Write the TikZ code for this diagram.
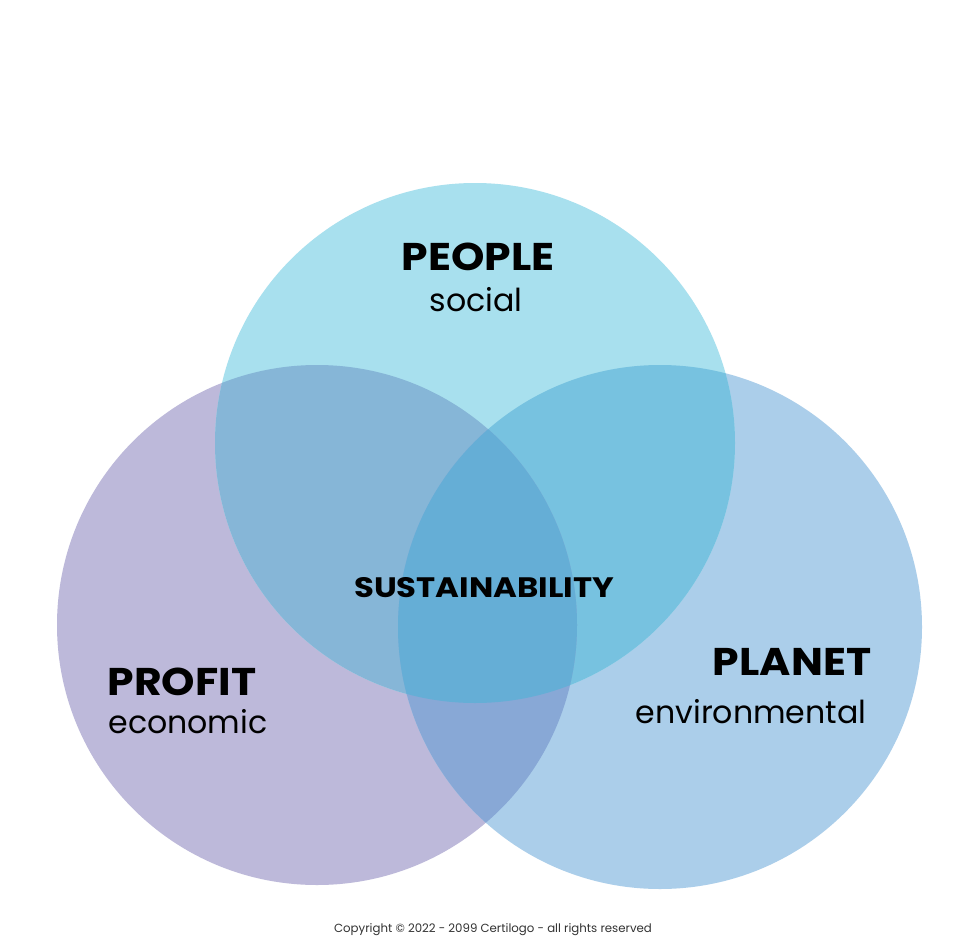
\documentclass[tikz,border=0pt]{standalone}
\usepackage{fontspec}
\setmainfont{Poppins}
\definecolor{profitfill}{HTML}{BDB9DA}
\definecolor{planetfill}{HTML}{ABCEEA}
\definecolor{peoplefill}{HTML}{A8E0EE}
\definecolor{peopleprofit}{HTML}{86B6D7}
\definecolor{peopleplanet}{HTML}{77C2E0}
\definecolor{profitplanet}{HTML}{88A8D6}
\definecolor{allthree}{HTML}{65AED6}
\begin{document}
\begin{tikzpicture}[x=0.02cm, y=-0.02cm,
  title/.style = {font=\fontsize{22}{26}\selectfont\bfseries\addfontfeatures{FakeStretch=1.1}, inner sep=0pt},
  sub/.style = {font=\fontsize{18}{21}\selectfont, inner sep=0pt},
  core/.style = {font=\fontsize{16}{19}\selectfont\bfseries\addfontfeatures{FakeStretch=1.15}, inner sep=0pt}]
	\useasboundingbox[fill=white] (0,0) rectangle (974,950);
	% the three circles
	\fill[profitfill] (317,625) circle (260);
	\fill[planetfill] (660,627) circle (262);
	\fill[peoplefill] (475,443) circle (260);
	% overlaps
	\begin{scope}
		\clip (317,625) circle (260);
		\fill[peopleprofit] (475,443) circle (260);
	\end{scope}
	\begin{scope}
		\clip (660,627) circle (262);
		\fill[peopleplanet] (475,443) circle (260);
	\end{scope}
	\begin{scope}
		\clip (317,625) circle (260);
		\fill[profitplanet] (660,627) circle (262);
	\end{scope}
	\begin{scope}
		\clip (317,625) circle (260);
		\clip (660,627) circle (262);
		\fill[allthree] (475,443) circle (260);
	\end{scope}
	% labels
	\node[title] (people) at (478,257) {PEOPLE};
	\node[sub] (social) at (476,300) {social};
	\node[title] (profit) at (182,682) {PROFIT};
	\node[sub] (economic) at (188,722) {economic};
	\node[title] (planet) at (792,662) {PLANET};
	\node[sub] (environmental) at (751,712) {environmental};
	\node[core] (sustainability) at (484,588) {SUSTAINABILITY};
	\node[font=\fontsize{6.7}{8}\selectfont, text=black!80] (copyright) at (493,930) {Copyright © 2022 - 2099 Certilogo - all rights reserved};
\end{tikzpicture}
\end{document}
